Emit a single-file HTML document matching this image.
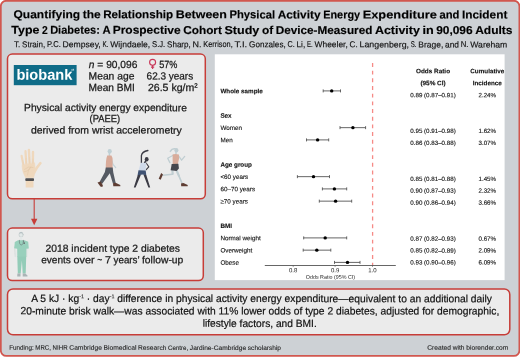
<!DOCTYPE html>
<html lang="en"><head><meta charset="utf-8"><title>Graphical abstract</title>
<style>html,body{margin:0;padding:0;background:#fff;}svg{display:block;}text{font-family:'Liberation Sans', Arial, sans-serif;text-rendering:geometricPrecision;}</style>
</head><body>
<svg width="520" height="358" viewBox="0 0 520 358">
<rect x="0.8" y="0.8" width="518.6" height="355.1" rx="5.5" ry="5.5" fill="#cdd1d5" stroke="#d1574f" stroke-width="1.8"/>
<g fill="#000" font-weight="bold" font-size="11.4" stroke="#000" stroke-width="0.15">
<text transform="rotate(0.03 13.5 18.2)" x="13.5" y="18.25"><tspan x="13.5" textLength="66.65" lengthAdjust="spacingAndGlyphs">Quantifying</tspan> <tspan x="82.65" textLength="18.00" lengthAdjust="spacingAndGlyphs">the</tspan> <tspan x="103.15" textLength="70.00" lengthAdjust="spacingAndGlyphs">Relationship</tspan> <tspan x="175.65" textLength="51.25" lengthAdjust="spacingAndGlyphs">Between</tspan> <tspan x="229.4" textLength="45.75" lengthAdjust="spacingAndGlyphs">Physical</tspan> <tspan x="277.65" textLength="43.00" lengthAdjust="spacingAndGlyphs">Activity</tspan> <tspan x="323.15" textLength="37.00" lengthAdjust="spacingAndGlyphs">Energy</tspan> <tspan x="362.65" textLength="74.25" lengthAdjust="spacingAndGlyphs">Expenditure</tspan> <tspan x="439.4" textLength="20.00" lengthAdjust="spacingAndGlyphs">and</tspan> <tspan x="461.9" textLength="45.50" lengthAdjust="spacingAndGlyphs">Incident</tspan></text>
<text transform="rotate(0.03 11.3 33.8)" x="11.3" y="33.8"><tspan x="11.3" textLength="28.10" lengthAdjust="spacingAndGlyphs">Type</tspan> <tspan x="41.9" textLength="5.75" lengthAdjust="spacingAndGlyphs">2</tspan> <tspan x="50.15" textLength="49.75" lengthAdjust="spacingAndGlyphs">Diabetes:</tspan> <tspan x="102.4" textLength="7.75" lengthAdjust="spacingAndGlyphs">A</tspan> <tspan x="112.65" textLength="68.00" lengthAdjust="spacingAndGlyphs">Prospective</tspan> <tspan x="183.15" textLength="38.75" lengthAdjust="spacingAndGlyphs">Cohort</tspan> <tspan x="224.4" textLength="35.00" lengthAdjust="spacingAndGlyphs">Study</tspan> <tspan x="261.9" textLength="11.25" lengthAdjust="spacingAndGlyphs">of</tspan> <tspan x="275.65" textLength="96.75" lengthAdjust="spacingAndGlyphs">Device-Measured</tspan> <tspan x="374.9" textLength="45.00" lengthAdjust="spacingAndGlyphs">Activity</tspan> <tspan x="422.4" textLength="11.25" lengthAdjust="spacingAndGlyphs">in</tspan> <tspan x="436.15" textLength="36.50" lengthAdjust="spacingAndGlyphs">90,096</tspan> <tspan x="475.15" textLength="37.35" lengthAdjust="spacingAndGlyphs">Adults</tspan></text>
</g>
<g fill="#111" font-size="8.5" stroke="#111" stroke-width="0.15">
<text transform="rotate(0.03 14.1 47.2)" x="14.05" y="47.2"><tspan x="14.05" textLength="6.20" lengthAdjust="spacingAndGlyphs">T.</tspan> <tspan x="22.05" textLength="23.20" lengthAdjust="spacingAndGlyphs">Strain,</tspan> <tspan x="47.05" textLength="13.70" lengthAdjust="spacingAndGlyphs">P.C.</tspan> <tspan x="62.55" textLength="38.20" lengthAdjust="spacingAndGlyphs">Dempsey,</tspan> <tspan x="102.55" textLength="5.95" lengthAdjust="spacingAndGlyphs">K.</tspan> <tspan x="110.3" textLength="39.95" lengthAdjust="spacingAndGlyphs">Wijndaele,</tspan> <tspan x="152.05" textLength="13.20" lengthAdjust="spacingAndGlyphs">S.J.</tspan> <tspan x="167.05" textLength="23.70" lengthAdjust="spacingAndGlyphs">Sharp,</tspan> <tspan x="192.55" textLength="8.95" lengthAdjust="spacingAndGlyphs">N.</tspan> <tspan x="203.3" textLength="29.45" lengthAdjust="spacingAndGlyphs">Kerrison,</tspan> <tspan x="234.55" textLength="12.70" lengthAdjust="spacingAndGlyphs">T.I.</tspan> <tspan x="249.05" textLength="36.70" lengthAdjust="spacingAndGlyphs">Gonzales,</tspan> <tspan x="287.55" textLength="7.20" lengthAdjust="spacingAndGlyphs">C.</tspan> <tspan x="296.55" textLength="8.70" lengthAdjust="spacingAndGlyphs">Li,</tspan> <tspan x="307.05" textLength="5.70" lengthAdjust="spacingAndGlyphs">E.</tspan> <tspan x="314.55" textLength="33.20" lengthAdjust="spacingAndGlyphs">Wheeler,</tspan> <tspan x="349.55" textLength="8.20" lengthAdjust="spacingAndGlyphs">C.</tspan> <tspan x="359.55" textLength="49.45" lengthAdjust="spacingAndGlyphs">Langenberg,</tspan> <tspan x="410.8" textLength="5.70" lengthAdjust="spacingAndGlyphs">S.</tspan> <tspan x="418.3" textLength="24.95" lengthAdjust="spacingAndGlyphs">Brage,</tspan> <tspan x="445.05" textLength="13.95" lengthAdjust="spacingAndGlyphs">and</tspan> <tspan x="460.8" textLength="7.70" lengthAdjust="spacingAndGlyphs">N.</tspan> <tspan x="470.3" textLength="37.00" lengthAdjust="spacingAndGlyphs">Wareham</tspan></text>
</g>
<rect x="7.5" y="54" width="197.8" height="144.8" rx="4.8" ry="4.8" fill="#ebebeb" stroke="#c73d38" stroke-width="1.5"/>
<rect x="7.5" y="228" width="195.8" height="52.60000000000002" rx="4.8" ry="4.8" fill="#ebebeb" stroke="#c73d38" stroke-width="1.5"/>
<rect x="7.5" y="288.9" width="502.3" height="45.900000000000034" rx="5.5" ry="5.5" fill="#ebebeb" stroke="#c73d38" stroke-width="1.5"/>
<path d="M34.2 198.5 V219.5" stroke="#c73d38" stroke-width="1.1" fill="none"/>
<path d="M31 218.8 H37.4 L34.2 225.2 Z" fill="#c73d38"/>
<rect x="13.8" y="65" width="62.8" height="20.2" fill="#0f6c88"/>
<text transform="rotate(0.03 44.4 79.8)" x="16.4" y="79.8" font-size="15" font-weight="bold" fill="#fff" textLength="56" lengthAdjust="spacingAndGlyphs">biobank</text>
<text transform="rotate(0.03 71.2 70.6)" x="71.2" y="70.6" font-size="2.6" font-weight="bold" fill="#fff">uk</text>
<g fill="#1a1a1a" font-size="10.4" stroke="#1a1a1a" stroke-width="0.25">
<text transform="rotate(0.03 113.1 68.1)" x="88.8" y="68.1" textLength="48.6" lengthAdjust="spacingAndGlyphs"><tspan font-style="italic">n</tspan> = 90,096</text>
<text transform="rotate(0.03 168.3 68.1)" x="159.2" y="68.1" textLength="18.2" lengthAdjust="spacingAndGlyphs">57%</text>
<text transform="rotate(0.03 111.5 79.5)" x="88.6" y="79.5" textLength="45.8" lengthAdjust="spacingAndGlyphs">Mean age</text>
<text transform="rotate(0.03 169.9 79.5)" x="146.6" y="79.5" textLength="46.6" lengthAdjust="spacingAndGlyphs">62.3 years</text>
<text transform="rotate(0.03 111.8 91.0)" x="88.6" y="91" textLength="46.3" lengthAdjust="spacingAndGlyphs">Mean BMI</text>
<text transform="rotate(0.03 172.8 91.0)" x="147.9" y="91" textLength="49.8" lengthAdjust="spacingAndGlyphs">26.5 kg/m<tspan font-size="6" dy="-3.6">2</tspan></text>
</g>
<g stroke="#c9395a" stroke-width="1.15" fill="none"><circle cx="152.6" cy="62.3" r="3"/><path d="M152.6 65.3 V68.9 M151 67.1 H154.2"/></g>
<g fill="#1a1a1a" font-size="10.2" text-anchor="middle" stroke="#1a1a1a" stroke-width="0.25">
<text transform="rotate(0.03 105.5 111.1)" x="105.5" y="111.1" textLength="162.8" lengthAdjust="spacingAndGlyphs">Physical activity energy expenditure</text>
<text transform="rotate(0.03 104.9 122.3)" x="104.9" y="122.3" textLength="30.6" lengthAdjust="spacingAndGlyphs">(PAEE)</text>
<text transform="rotate(0.03 106.4 133.6)" x="106.4" y="133.6" textLength="150.8" lengthAdjust="spacingAndGlyphs">derived from wrist accelerometry</text>
</g>
<g fill="#1a1a1a" font-size="10.2" stroke="#1a1a1a" stroke-width="0.25">
<text transform="rotate(0.03 112.8 251.8)" x="45.5" y="251.8" textLength="134.5" lengthAdjust="spacingAndGlyphs">2018 incident type 2 diabetes</text>
<text transform="rotate(0.03 41.2 263.2)" x="41.2" y="263.2"><tspan x="41.2" textLength="29.70" lengthAdjust="spacingAndGlyphs">events</tspan> <tspan x="73.6" textLength="21.00" lengthAdjust="spacingAndGlyphs">over</tspan> <tspan x="97.3" textLength="4.90" lengthAdjust="spacingAndGlyphs">~</tspan> <tspan x="104.9" textLength="6.00" lengthAdjust="spacingAndGlyphs">7</tspan> <tspan x="113.6" textLength="25.70" lengthAdjust="spacingAndGlyphs">years’</tspan> <tspan x="142.0" textLength="41.30" lengthAdjust="spacingAndGlyphs">follow-up</tspan></text>
</g>
<g fill="#111" font-size="10.5" stroke="#111" stroke-width="0.2">
<text transform="rotate(0.03 261.6 302.1)" x="31.2" y="302.1" textLength="460.8" lengthAdjust="spacingAndGlyphs">A 5 kJ · kg<tspan font-size="5.5" dy="-3.8" stroke-width="0.05">-1</tspan><tspan dy="3.8"> · day</tspan><tspan font-size="5.5" dy="-3.8" stroke-width="0.05">-1</tspan><tspan dy="3.8"> difference in physical activity energy expenditure—equivalent to an additional daily</tspan></text>
<text transform="rotate(0.03 259.9 314.5)" x="20.5" y="314.5" textLength="478.75" lengthAdjust="spacingAndGlyphs">20-minute brisk walk—was associated with 11% lower odds of type 2 diabetes, adjusted for demographic,</text>
<text transform="rotate(0.03 259.8 326.9)" x="202.7" y="326.9" textLength="114.1" lengthAdjust="spacingAndGlyphs">lifestyle factors, and BMI.</text>
</g>
<g fill="#222" font-size="6.5" stroke="#222" stroke-width="0.1">
<text transform="rotate(0.03 9.2 349.8)" x="9.2" y="349.8"><tspan x="9.2" textLength="24.45" lengthAdjust="spacingAndGlyphs">Funding:</tspan> <tspan x="35.35" textLength="15.55" lengthAdjust="spacingAndGlyphs">MRC,</tspan> <tspan x="52.6" textLength="15.05" lengthAdjust="spacingAndGlyphs">NIHR</tspan> <tspan x="69.35" textLength="32.55" lengthAdjust="spacingAndGlyphs">Cambridge</tspan> <tspan x="103.6" textLength="32.80" lengthAdjust="spacingAndGlyphs">Biomedical</tspan> <tspan x="138.1" textLength="28.30" lengthAdjust="spacingAndGlyphs">Research</tspan> <tspan x="168.1" textLength="20.05" lengthAdjust="spacingAndGlyphs">Centre,</tspan> <tspan x="189.85" textLength="56.30" lengthAdjust="spacingAndGlyphs">Jardine-Cambridge</tspan> <tspan x="247.85" textLength="33.15" lengthAdjust="spacingAndGlyphs">scholarship</tspan></text>
<text transform="rotate(0.03 467.8 349.8)" x="427.3" y="349.8" textLength="81" lengthAdjust="spacingAndGlyphs">Created with biorender.com</text>
</g>
<rect x="214.8" y="54.3" width="289.8" height="225.8" fill="#fff"/>
<g font-size="6.3" fill="#111" stroke="#111" stroke-width="0.12">
<text transform="rotate(0.03 220.4 93.2)" x="220.4" y="93.15" font-weight="bold">Whole sample</text>
<text transform="rotate(0.03 220.4 117.7)" x="220.4" y="117.65" font-weight="bold">Sex</text>
<text transform="rotate(0.03 220.4 129.9)" x="220.4" y="129.90">Women</text>
<text transform="rotate(0.03 220.4 142.2)" x="220.4" y="142.15">Men</text>
<text transform="rotate(0.03 220.4 166.7)" x="220.4" y="166.65" font-weight="bold">Age group</text>
<text transform="rotate(0.03 220.4 178.9)" x="220.4" y="178.90">&lt;60 years</text>
<text transform="rotate(0.03 220.4 191.2)" x="220.4" y="191.15">60–70 years</text>
<text transform="rotate(0.03 220.4 203.4)" x="220.4" y="203.40">≥70 years</text>
<text transform="rotate(0.03 220.4 227.9)" x="220.4" y="227.90" font-weight="bold">BMI</text>
<text transform="rotate(0.03 220.4 240.2)" x="220.4" y="240.15">Normal weight</text>
<text transform="rotate(0.03 220.4 252.4)" x="220.4" y="252.40">Overweight</text>
<text transform="rotate(0.03 220.4 264.6)" x="220.4" y="264.65">Obese</text>
</g>
<g font-size="6.2" fill="#111" text-anchor="middle" stroke="#111" stroke-width="0.12">
<text transform="rotate(0.03 433.0 73.3)" x="433" y="73.29" font-weight="bold" font-size="6.4">Odds Ratio</text>
<text transform="rotate(0.03 433.0 85.2)" x="433" y="85.25" font-weight="bold" font-size="6.4">(95% CI)</text>
<text transform="rotate(0.03 487.3 73.3)" x="487.3" y="73.29" font-weight="bold" font-size="6.3">Cumulative</text>
<text transform="rotate(0.03 487.3 85.2)" x="487.3" y="85.25" font-weight="bold" font-size="6.3">Incidence</text>
<text transform="rotate(0.03 433.0 97.2)" x="433" y="97.20">0.89 (0.87–0.91)</text><text transform="rotate(0.03 487.3 97.2)" x="487.3" y="97.20">2.24%</text>
<text transform="rotate(0.03 433.0 133.1)" x="433" y="133.07">0.95 (0.91–0.98)</text><text transform="rotate(0.03 487.3 133.1)" x="487.3" y="133.07">1.62%</text>
<text transform="rotate(0.03 433.0 145.0)" x="433" y="145.03">0.86 (0.83–0.88)</text><text transform="rotate(0.03 487.3 145.0)" x="487.3" y="145.03">3.07%</text>
<text transform="rotate(0.03 433.0 180.9)" x="433" y="180.90">0.85 (0.81–0.88)</text><text transform="rotate(0.03 487.3 180.9)" x="487.3" y="180.90">1.45%</text>
<text transform="rotate(0.03 433.0 192.9)" x="433" y="192.86">0.90 (0.87–0.93)</text><text transform="rotate(0.03 487.3 192.9)" x="487.3" y="192.86">2.32%</text>
<text transform="rotate(0.03 433.0 204.8)" x="433" y="204.82">0.90 (0.86–0.94)</text><text transform="rotate(0.03 487.3 204.8)" x="487.3" y="204.82">3.66%</text>
<text transform="rotate(0.03 433.0 240.7)" x="433" y="240.69">0.87 (0.82–0.93)</text><text transform="rotate(0.03 487.3 240.7)" x="487.3" y="240.69">0.67%</text>
<text transform="rotate(0.03 433.0 252.6)" x="433" y="252.64">0.85 (0.82–0.89)</text><text transform="rotate(0.03 487.3 252.6)" x="487.3" y="252.64">2.09%</text>
<text transform="rotate(0.03 433.0 264.6)" x="433" y="264.60">0.93 (0.90–0.96)</text><text transform="rotate(0.03 487.3 264.6)" x="487.3" y="264.60">6.09%</text>
</g>
<path d="M372.6 63 V265.5" stroke="#f68a86" stroke-width="1.3" stroke-dasharray="3.9 3.78" fill="none"/>
<path d="M264.8 265.5 H395.8" stroke="#555" stroke-width="0.9" fill="none"/>
<path d="M293.2 265.5 v1.3 M335.1 265.5 v1.3 M372.5 265.5 v1.3" stroke="#555" stroke-width="0.7" fill="none"/>
<g font-size="6" fill="#222" text-anchor="middle">
<text transform="rotate(0.03 293.2 272.3)" x="293.2" y="272.3">0.8</text>
<text transform="rotate(0.03 335.1 272.3)" x="335.1" y="272.3">0.9</text>
<text transform="rotate(0.03 372.5 272.3)" x="372.5" y="272.3">1.0</text>
</g>
<text transform="rotate(0.03 330.5 278.8)" x="330.5" y="278.8" font-size="5.3" fill="#222" text-anchor="middle" textLength="49.3" lengthAdjust="spacingAndGlyphs">Odds Ratio (95% CI)</text>
<g stroke="#555" stroke-width="0.9" fill="none">
<path d="M323.2 90.90 H340.5 M323.2 89.40 v3 M340.5 89.40 v3"/>
<path d="M340.0 127.65 H365.6 M340.0 126.15 v3 M365.6 126.15 v3"/>
<path d="M306.5 139.90 H328.7 M306.5 138.40 v3 M328.7 138.40 v3"/>
<path d="M297.4 176.65 H329.5 M297.4 175.15 v3 M329.5 175.15 v3"/>
<path d="M322.4 188.90 H346.7 M322.4 187.40 v3 M346.7 187.40 v3"/>
<path d="M319.3 201.15 H351.7 M319.3 199.65 v3 M351.7 199.65 v3"/>
<path d="M303.7 237.90 H346.7 M303.7 236.40 v3 M346.7 236.40 v3"/>
<path d="M303.2 250.15 H330.8 M303.2 248.65 v3 M330.8 248.65 v3"/>
<path d="M334.5 262.40 H360.0 M334.5 260.90 v3 M360.0 260.90 v3"/>
</g>
<g fill="#000">
<circle cx="331.7" cy="90.90" r="1.7"/>
<circle cx="352.9" cy="127.65" r="1.7"/>
<circle cx="317.6" cy="139.90" r="1.7"/>
<circle cx="313.5" cy="176.65" r="1.7"/>
<circle cx="334.4" cy="188.90" r="1.7"/>
<circle cx="335.6" cy="201.15" r="1.7"/>
<circle cx="325.2" cy="237.90" r="1.7"/>
<circle cx="316.8" cy="250.15" r="1.7"/>
<circle cx="347.5" cy="262.40" r="1.7"/>
</g>
<!-- hand -->
<g id="hand">
<g fill="#efd8bd" stroke="#efd8bd" stroke-linecap="round" stroke-linejoin="round">
<path d="M22.2 165 Q21.6 170 25.6 177.8 H33.6 Q34.6 174.5 35.4 170.5 L34.6 163 Z" stroke-width="0.6"/>
<path d="M21.6 155.8 L23.4 165" stroke-width="2.2" fill="none"/>
<path d="M25.5 151.2 L26.3 164" stroke-width="2.3" fill="none"/>
<path d="M28.9 149.9 L29.6 164" stroke-width="2.4" fill="none"/>
<path d="M33 151.9 L32.8 164" stroke-width="2.4" fill="none"/>
<path d="M40.4 163.2 Q37 167 34.2 172.5" stroke-width="2.6" fill="none"/>
<rect x="25.7" y="180.5" width="7.8" height="7" rx="0.6" stroke="none"/>
</g>
<path d="M24.2 169.6 Q28 165.6 33.4 167.6 M27.4 175.4 Q27.8 170 31 166.4 M23.6 172 Q27 171.6 30.4 168.4" stroke="#d8bc9b" stroke-width="0.35" fill="none"/>
<path d="M23.4 164.6 L22.6 160 M26.4 163.6 L26 158 M29.7 163.6 L29.6 157 M32.9 163.8 L33 158.6" stroke="#e0c6a6" stroke-width="0.3" fill="none"/>
<rect x="25.3" y="178.3" width="8.7" height="2.7" rx="0.8" fill="#505052"/>
</g>
<!-- walking man -->
<g id="walker" stroke-linecap="round" stroke-linejoin="round">
<ellipse cx="109.7" cy="151.3" rx="2.1" ry="2.4" fill="#bfd0d5"/>
<path d="M109.4 153 V156" stroke="#bfd0d5" stroke-width="1.5" fill="none"/>
<path d="M111.6 159.5 L113 164.4 L115.7 167.6" stroke="#c3d2d6" stroke-width="1.2" fill="none"/>
<path d="M107.2 155.4 L111.4 155.4 Q112.8 157 112.6 161 L112.6 168.4 L105.8 168.4 Q105.6 160 107.2 155.4 Z" fill="#d9ab9a"/>
<path d="M105.8 167.6 L112.7 167.6 L113.3 172.5 L115.7 183 L112.9 183.6 L109.8 173.2 L102.2 183.8 L99.4 182.2 L104.9 172 Z" fill="#555a63"/>
<path d="M97.5 182.4 L100.8 181.6 L102.9 185.6 L102.3 187.1 L100.4 186.4 Z" fill="#5e3d33"/>
<path d="M113 183.3 L115.6 182.8 L120.3 185 L120.3 186.3 H113.3 Z" fill="#5e3d33"/>
</g>
<!-- stretching woman -->
<g id="stretch" stroke-linecap="round" stroke-linejoin="round">
<path d="M141.4 162.8 V155.6 Q141.9 151.6 147.9 150.5" stroke="#3b3b45" stroke-width="1.3" fill="none"/>
<ellipse cx="146.7" cy="159.3" rx="1.9" ry="2.2" fill="#3b3b45"/>
<path d="M145.6 161 L144.4 163.4" stroke="#3b3b45" stroke-width="1.6" fill="none"/>
<path d="M146.3 163.2 L148.8 166.8 L146.2 169.6" stroke="#3b3b45" stroke-width="1.1" fill="none"/>
<path d="M140.7 162.7 L146.3 163 L145.6 170.6 L138.6 170.4 Z" fill="#d0daea"/>
<path d="M138.5 170.3 L145.7 170.5 L146.3 175.2 L142.3 174.5 L137.5 175.4 Z" fill="#3f5273"/>
<path d="M137.8 175 L140.9 174.8 L135.6 187.6 L133.8 187.6 Z M143.5 174.8 L146.3 175 L150.2 187.6 L148.4 187.6 Z" fill="#3b3b45"/>
</g>
<!-- running woman -->
<g id="runner" stroke-linecap="round" stroke-linejoin="round">
<path d="M175.2 148.8 Q172 148.2 170.3 151.4" stroke="#c0ced2" stroke-width="1.5" fill="none"/>
<ellipse cx="176.4" cy="150.3" rx="2" ry="2.2" fill="#c0ced2"/>
<path d="M176 152 V155" stroke="#c0ced2" stroke-width="1.4" fill="none"/>
<path d="M173.2 155.2 L167.7 158.2 L169.9 162.6" stroke="#c0ced2" stroke-width="1.3" fill="none"/>
<path d="M178.5 155.8 L181.6 160.2 L184.7 156.4" stroke="#c0ced2" stroke-width="1.3" fill="none"/>
<path d="M172.6 154.4 Q175.6 153.6 178.9 154.6 L179 159 L177.7 164.4 L172.7 164.4 Z" fill="#d8ac9b"/>
<path d="M172.4 174.2 L163 175.3" stroke="#c0ced2" stroke-width="1.6" fill="none"/>
<path d="M178.8 175.6 L182.2 183.6" stroke="#c0ced2" stroke-width="1.6" fill="none"/>
<path d="M176.4 170 L178.8 175.6" stroke="#c0ced2" stroke-width="2.2" fill="none"/>
<path d="M172.3 169.6 L172.7 173.8" stroke="#c0ced2" stroke-width="2.2" fill="none"/>
<path d="M171.7 164 L178.4 163.8 L178.9 168.6 L176.6 171 L170.6 170.2 Z" fill="#46474e"/>
<path d="M161.2 173.1 L163 174.4 L160.7 179.8 L158.7 178.7 Z" fill="#5e3d33"/>
<path d="M181 183.6 L183.4 183.1 L187.7 185 V186.3 H181.2 Z" fill="#5e3d33"/>
</g>
<!-- doctor -->
<g id="doctor" stroke-linecap="round" stroke-linejoin="round">
<ellipse cx="21.1" cy="234.7" rx="2.1" ry="2.5" fill="#e2e8e8" stroke="#aab5b7" stroke-width="0.4"/>
<path d="M19.1 233.8 Q19.4 232 21.1 232.1 Q22.9 232 23.1 233.8 Q21 232.8 19.1 233.8 Z" fill="#b4bfc2"/>
<path d="M20.1 237 H22.2 V240.6 H20.1 Z" fill="#e2e8e8"/>
<path d="M15.4 247 L16 256.4 M27.6 247 L27 256.4" stroke="#e3e9e7" stroke-width="1.7" fill="none"/>
<path d="M15.4 247 L16 256.4 M27.6 247 L27 256.4" stroke="#b9c3c3" stroke-width="0.3" fill="none" transform="translate(-0.9 0)"/>
<path d="M18 240.3 L24.4 240.2 L28.2 241.8 L28.8 248.4 L26.3 248.7 L26.3 257 H17.3 L17.2 248.7 L14.2 248.3 L14.8 242 Z" fill="#98d0bc"/>
<path d="M17.3 256.4 H26.2 L25.7 273.5 H22.7 L21.9 260.5 L20.7 273.5 H17.8 Z" fill="#93ccb8"/>
<path d="M17.4 273.6 H20.5 V276.6 H17.2 Z M22.7 273.6 H25.3 L27.5 275.6 V276.6 H22.7 Z" fill="#aab4b6"/>
<path d="M19.4 240.3 Q19 244.6 21.2 245 Q23.6 244.8 23.4 240.3 M23.4 241 L24.2 242.6" stroke="#5f6569" stroke-width="0.5" fill="none"/>
<circle cx="24.2" cy="243.2" r="0.8" fill="#5f6569"/>
</g>

</svg></body></html>
